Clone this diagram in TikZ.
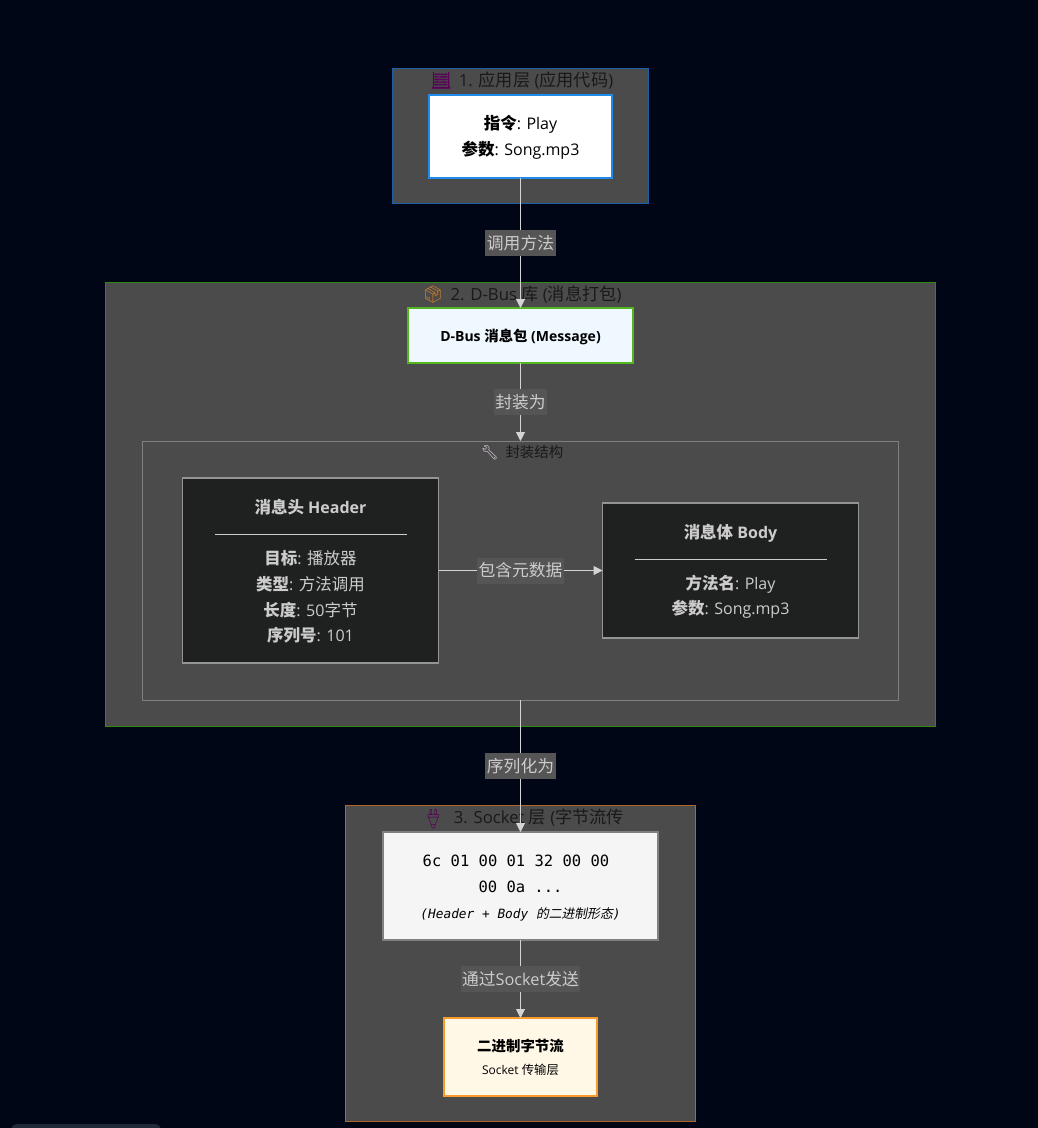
\documentclass[tikz,border=0pt]{standalone}
\usepackage{fontspec}
\setmainfont{Open Sans}
\setmonofont{DejaVu Sans Mono}
\newfontfamily\cjk[Scale=1.03]{Noto Sans CJK SC}
\newfontfamily\cjkslant[FakeSlant=0.2]{Noto Sans CJK SC}
\newfontfamily\emojifont{Noto Emoji}
\newcommand{\zh}[1]{{\cjk #1}}
\newcommand{\emo}[2]{{\emojifont\color{#1}#2}}
\newcommand{\lift}[1]{\rule{0pt}{#1pt}}
\usetikzlibrary{calc, positioning, arrows.meta}
\definecolor{pagebg}{HTML}{000616}
\definecolor{tabbg}{HTML}{1F2937}
\definecolor{layerbg}{HTML}{4A4B4A}
\definecolor{labelbg}{HTML}{555555}
\definecolor{linegray}{HTML}{D4D4D4}
\definecolor{softtext}{HTML}{CCCCCC}
\definecolor{darkbox}{HTML}{1F2020}
\definecolor{appline}{HTML}{1F8CEB}
\definecolor{msgline}{HTML}{52B71E}
\definecolor{msgfill}{HTML}{F0F8FF}
\definecolor{hexfill}{HTML}{F5F5F5}
\definecolor{streamline}{HTML}{FB9A2C}
\definecolor{streamfill}{HTML}{FFF8E7}
\definecolor{firstline}{HTML}{1A5FA8}
\definecolor{secondline}{HTML}{2E8B0F}
\definecolor{thirdline}{HTML}{B0662A}
\begin{document}
\begin{tikzpicture}[x=1pt,y=-1pt,
layer/.style={rectangle,draw,line width=1pt,fill=layerbg,inner sep=0pt,outer sep=0pt},
layertitle/.style={inner sep=0pt,text=black!90,font=\fontsize{16.7}{20}\selectfont},
item/.style={rectangle,draw,align=center,inner sep=0pt,outer sep=0pt,text=black,font=\fontsize{16}{25.6}\selectfont},
struct/.style={item,line width=1.2pt,draw=black!42!white,fill=darkbox,text=softtext,minimum width=256pt},
edgelabel/.style={fill=labelbg,text=softtext,inner xsep=1.5pt,inner ysep=0pt,minimum height=26pt,font=\fontsize{16.3}{20}\selectfont},
link/.style={line width=1pt,draw=linegray,-{Triangle[length=9pt,width=9pt]}}]

 \fill[pagebg] (0,0) rectangle (1038,1128);
 \useasboundingbox (0,0) rectangle (1038,1128);
 \fill[tabbg,rounded corners=6pt] (11,1124) rectangle (161,1140);

 % layers
 \node[layer,draw=firstline,minimum width=256pt,minimum height=135pt] (L1) at (520.5,136) {};
 \node[layer,draw=secondline,minimum width=830pt,minimum height=444pt] (L2) at (520.5,504.5) {};
 \node[layer,draw=thirdline,minimum width=350pt,minimum height=316pt] (L3) at (520.5,963.5) {};
 \node[layer,draw=black!50!white,minimum width=756pt,minimum height=259pt] (inner) at (520.5,570.5) {};

 \node[layertitle] (t1) at (522,81) {\emo{violet!70!black}{🧮}\hspace{7pt}1. \zh{应用层} (\zh{应用代码})};
 \node[layertitle] (t2) at (522,295) {\emo{brown!70!orange}{📦}\hspace{7pt}2. D-Bus \zh{库} (\zh{消息打包})};
 \node[layertitle] (t3) at (522,818) {\smash{\rotatebox[origin=c]{-45}{\emo{violet!70!black}{🔌}}}\hspace{7pt}3. Socket \zh{层} (\zh{字节流传}};
 \node[layertitle,font=\fontsize{14}{18}\selectfont] (t4) at (522,453) {\emo{violet!15!white}{🔧}\hspace{7pt}\zh{封装结构}};

 % nodes
 \node[item,line width=2.4pt,draw=appline,fill=white,minimum width=183pt,minimum height=83pt] (app) at (520.5,136.5)
 {\lift{16}\textbf{\zh{指令}}: Play\\\textbf{\zh{参数}}: Song.mp3};

 \node[item,line width=2.2pt,draw=msgline,fill=msgfill,minimum width=225pt,minimum height=55pt,font=\fontsize{14}{20}\selectfont\bfseries] (msg) at (520.5,335.5)
 {\lift{15}D-Bus \zh{消息包} (Message)};

 \node[struct,minimum height=185pt] (header) at (310.5,570.5)
 {\lift{16}\textbf{\zh{消息头} Header}\\[25.6pt]\textbf{\zh{目标}}: \zh{播放器}\\\textbf{\zh{类型}}: \zh{方法调用}\\\textbf{\zh{长度}}: 50\zh{字节}\\\textbf{\zh{序列号}}: 101};
 \node[struct,minimum height=135pt,right=164pt of header] (body)
 {\lift{16}\textbf{\zh{消息体} Body}\\[25.6pt]\textbf{\zh{方法名}}: Play\\\textbf{\zh{参数}}: Song.mp3};

 \draw[softtext,line width=1pt] ($(header.north)+(-96,56)$) -- ++ (192,0);
 \draw[softtext,line width=1pt] ($(body.north)+(-96,56)$) -- ++ (192,0);

 \node[item,line width=1.2pt,draw=gray,fill=hexfill,minimum width=275pt,minimum height=108pt,font=\fontsize{15.5}{26}\ttfamily] (hex) at (520.5,886)
 {\lift{15}6c 01 00 01 32 00 00\hspace*{9pt}\\00 0a ...\\{\fontsize{12.8}{25.4}\selectfont\itshape (Header + Body {\cjkslant 的二进制形态})}};

 \node[item,line width=2.2pt,draw=streamline,fill=streamfill,minimum width=153pt,minimum height=78pt,font=\fontsize{14}{23}\selectfont] (stream) at (520.5,1057)
 {\textbf{\zh{二进制字节流}}\\{\fontsize{12}{23}\selectfont Socket \zh{传输层}}};

 % connectors
 \foreach \A/\B/\T in {app.south/msg.north/{\zh{调用方法}},
 msg.south/inner.north/{\zh{封装为}},
 header.east/body.west/{\zh{包含元数据}},
 inner.south/hex.north/{\zh{序列化为}},
 hex.south/stream.north/{\zh{通过}Socket\zh{发送}}} {
 \draw[link] (\A) -- (\B) node[midway,edgelabel] (lab-\B) {\T};
 }

\end{tikzpicture}
\end{document}
